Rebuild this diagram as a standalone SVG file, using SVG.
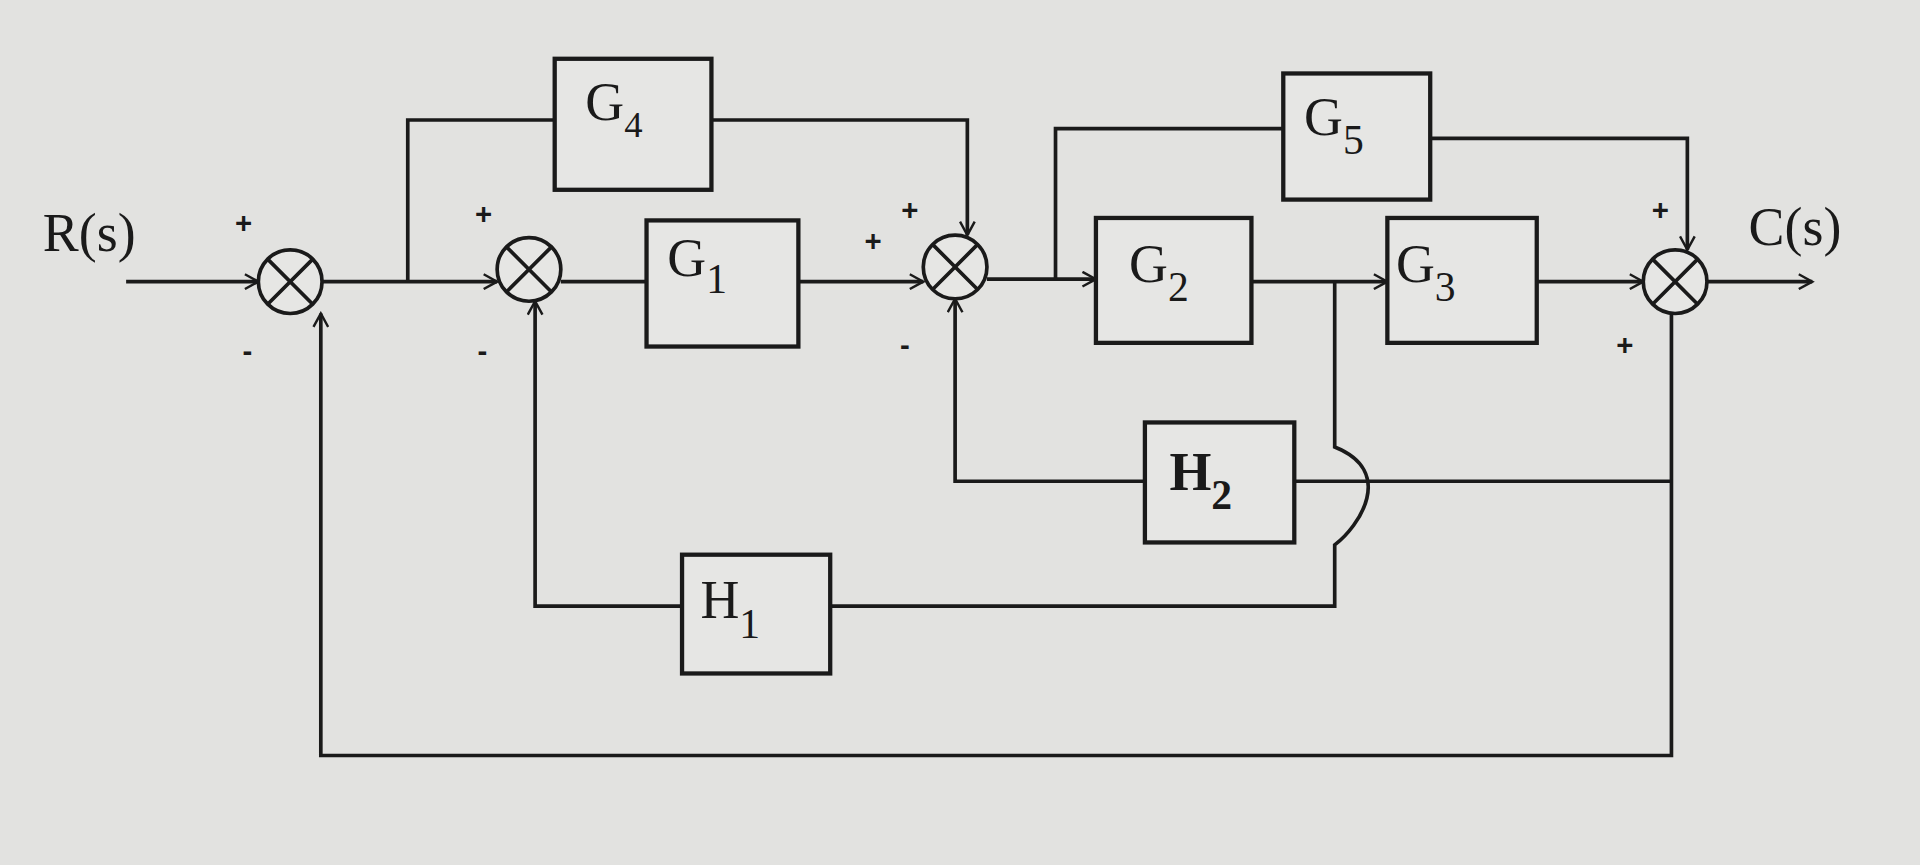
<svg xmlns="http://www.w3.org/2000/svg" width="1920" height="865" viewBox="0 0 1920 865">
<style>
.ln{fill:none;stroke:#1a1a1a;stroke-width:3}
.bx{fill:#e6e6e4;stroke:#1a1a1a;stroke-width:3.5}
.sj{fill:#e6e6e4;stroke:#1a1a1a;stroke-width:3}
.t{font-family:"Liberation Serif",serif;font-size:44px;fill:#1a1a1a}
.s{font-family:"Liberation Sans",sans-serif;font-size:24px;font-weight:bold;fill:#1a1a1a}
</style>
<defs>
<marker id="a" markerWidth="14" markerHeight="14" refX="12" refY="7" orient="auto" markerUnits="userSpaceOnUse">
<path d="M1,1 L12,7 L1,13" fill="none" stroke="#1a1a1a" stroke-width="2"/>
</marker>
</defs>
<rect width="1920" height="865" fill="#e2e2e0"/>
<g transform="scale(1.2245)">
<g id="connectors">
<path class="ln" d="M103,230 H211" marker-end="url(#a)"/>
<path class="ln" d="M263,230 H406" marker-end="url(#a)"/>
<path class="ln" d="M333,230 V98 H453"/>
<path class="ln" d="M581,98 H790 V192" marker-end="url(#a)"/>
<path class="ln" d="M458,230 H528"/>
<path class="ln" d="M652,230 H754" marker-end="url(#a)"/>
<path class="ln" d="M806,228 H895" marker-end="url(#a)"/>
<path class="ln" d="M862,228 V105 H1048"/>
<path class="ln" d="M1168,113 H1378 V204" marker-end="url(#a)"/>
<path class="ln" d="M1022,230 H1133" marker-end="url(#a)"/>
<path class="ln" d="M1255,230 H1342" marker-end="url(#a)"/>
<path class="ln" d="M1394,230 H1480" marker-end="url(#a)"/>
<path class="ln" d="M1365,256 V617 H262 V256" marker-end="url(#a)"/>
<path class="ln" d="M1365,393 H1057"/>
<path class="ln" d="M935,393 H780 V244" marker-end="url(#a)"/>
<path class="ln" d="M1090,230 V365 C1140,385 1110,430 1090,445 V495 H678"/>
<path class="ln" d="M557,495 H437 V246" marker-end="url(#a)"/>
</g>
<g id="sum1"><circle class="sj" cx="237" cy="230" r="26"/><path class="ln" d="M219,212 L255,248 M255,212 L219,248"/></g>
<g id="sum2"><circle class="sj" cx="432" cy="220" r="26"/><path class="ln" d="M414,202 L450,238 M450,202 L414,238"/></g>
<g id="sum3"><circle class="sj" cx="780" cy="218" r="26"/><path class="ln" d="M762,200 L798,236 M798,200 L762,236"/></g>
<g id="sum4"><circle class="sj" cx="1368" cy="230" r="26"/><path class="ln" d="M1350,212 L1386,248 M1386,212 L1350,248"/></g>
<g id="G4"><rect class="bx" x="453" y="48" width="128" height="107"/><text class="t" x="478" y="98">G<tspan font-size="30" dy="14">4</tspan></text></g>
<g id="G1"><rect class="bx" x="528" y="180" width="124" height="103"/><text class="t" x="545" y="225">G<tspan font-size="34" dy="14">1</tspan></text></g>
<g id="G5"><rect class="bx" x="1048" y="60" width="120" height="103"/><text class="t" x="1065" y="110">G<tspan font-size="34" dy="16">5</tspan></text></g>
<g id="G2"><rect class="bx" x="895" y="178" width="127" height="102"/><text class="t" x="922" y="230">G<tspan font-size="34" dy="16">2</tspan></text></g>
<g id="G3"><rect class="bx" x="1133" y="178" width="122" height="102"/><text class="t" x="1140" y="230">G<tspan font-size="34" dy="16">3</tspan></text></g>
<g id="H2"><rect class="bx" x="935" y="345" width="122" height="98"/><text class="t" x="955" y="400" font-weight="bold">H<tspan font-size="34" dy="16">2</tspan></text></g>
<g id="H1"><rect class="bx" x="557" y="453" width="121" height="97"/><text class="t" x="572" y="505">H<tspan font-size="34" dy="16">1</tspan></text></g>
<g id="labels">
<text class="t" x="35" y="205" font-size="40">R(s)</text>
<text class="t" x="1428" y="200" font-size="40">C(s)</text>
<text class="s" x="192" y="190">+</text><text class="s" x="198" y="295">-</text>
<text class="s" x="388" y="183">+</text><text class="s" x="390" y="295">-</text>
<text class="s" x="706" y="205">+</text><text class="s" x="736" y="180">+</text><text class="s" x="735" y="290">-</text>
<text class="s" x="1349" y="180">+</text><text class="s" x="1320" y="290">+</text>
</g>
</g>
</svg>
